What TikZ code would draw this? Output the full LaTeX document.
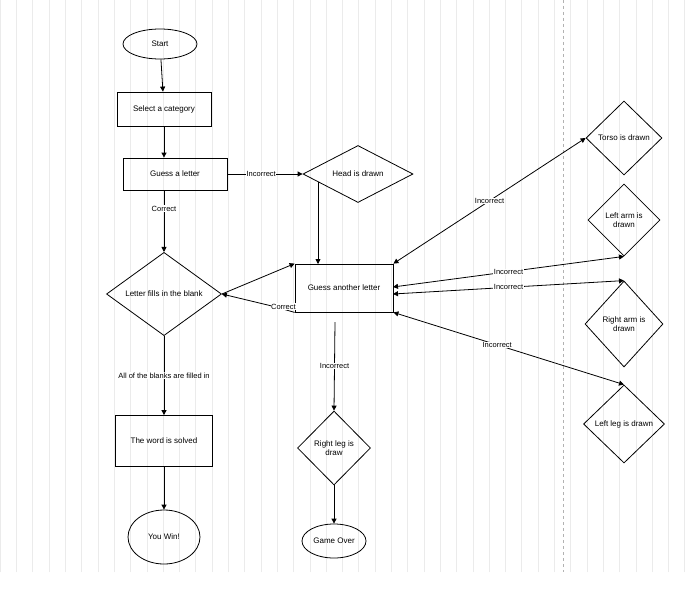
\documentclass[tikz,border=0pt]{standalone}
\usepackage{fontspec}
\setmainfont{Liberation Sans}
\usetikzlibrary{shapes.geometric,arrows.meta}
\begin{document}
\begin{tikzpicture}[x=1pt,y=-1pt,font=\fontsize{8}{9.5}\selectfont,
  box/.style={draw,thick,minimum width=#1,align=center,inner sep=1pt},
  dia/.style={draw,thick,diamond,aspect=1,align=center,inner sep=0pt},
  ell/.style={draw,thick,ellipse,inner sep=0pt},
  arr/.style={thick,-{Triangle[length=5pt,width=5pt]}},
  darr/.style={thick,{Triangle[length=5pt,width=5pt]}-{Triangle[length=5pt,width=5pt]}},
  lab/.style={fill=white,inner sep=0.5pt,font=\fontsize{7.5}{9}\selectfont}]
\useasboundingbox (0,0) rectangle (700,594);
\fill[white] (0,0) rectangle (700,594);
\draw[black!8,step=16.3] (0,0) grid (700,572);
\draw[black!30,dashed] (563,0) -- (563,572);
% nodes
\node[ell,minimum width=74,minimum height=30] (start) at (160,44) {Start};
\node[box=94,minimum height=34] (cat) at (164,109) {Select a category};
\node[box=104,minimum height=32] (guess) at (175,174) {Guess a letter};
\node[draw,thick,diamond,minimum width=110,minimum height=30,inner sep=0pt] (head) at (358,174) {Head is drawn};
\node[box=98,minimum height=48] (gal) at (344,288) {Guess another letter};
\node[draw,thick,diamond,minimum width=115,minimum height=80,inner sep=0pt] (fill) at (164,294) {Letter fills in the blank};
\node[draw,thick,diamond,minimum width=76,minimum height=74,inner sep=0pt] (torso) at (624,138) {Torso is drawn};
\node[draw,thick,diamond,minimum width=72,minimum height=72,inner sep=0pt,align=center] (larm) at (624,220) {Left arm is\\drawn};
\node[draw,thick,diamond,minimum width=78,minimum height=86,inner sep=0pt,align=center] (rarm) at (624,324) {Right arm is\\drawn};
\node[draw,thick,diamond,minimum width=81,minimum height=78,inner sep=0pt] (lleg) at (624,424) {Left leg is drawn};
\node[box=97,minimum height=51] (solved) at (164,441) {The word is solved};
\node[ell,minimum width=72,minimum height=54] (win) at (164,537) {You Win!};
\node[draw,thick,diamond,minimum width=73,minimum height=74,inner sep=0pt,align=center] (rleg) at (334,448) {Right leg is\\draw};
\node[ell,minimum width=64,minimum height=34] (over) at (334,541) {Game Over};
\coordinate (galb) at (335,322);
% connectors
\draw[arr] (start) -- (cat);
\draw[arr] (cat.south) -- (cat.south |- guess.north);
\draw[arr] (164,190) -- node[lab,pos=0.3]{Correct} (fill.north);
\draw[arr] (guess) -- node[lab,pos=0.45]{Incorrect} (head);
\draw[arr] (318,182) -- (318,264);
\draw[arr] (fill) -- node[lab]{All of the blanks are filled in} (solved);
\draw[arr] (solved) -- (win);
\draw[arr] (galb) -- node[lab]{Incorrect} (rleg.north);
\draw[arr] (rleg) -- (over);
\draw[arr] (fill.east) -- (gal.north west);
\draw[arr] (gal.south west) -- (276,307) node[lab,pos=0.6,above=-1pt]{Correct} -- (fill.east);
\draw[darr] (gal.north east) -- node[lab,pos=0.5]{Incorrect} (torso.west);
\draw[darr] (393,287) -- node[lab,pos=0.5]{Incorrect} (larm.south);
\draw[darr] (393,294) -- node[lab,pos=0.5]{Incorrect} (rarm.north);
\draw[darr] (gal.south east) -- node[lab,pos=0.45]{Incorrect} (lleg.north);
\end{tikzpicture}
\end{document}
